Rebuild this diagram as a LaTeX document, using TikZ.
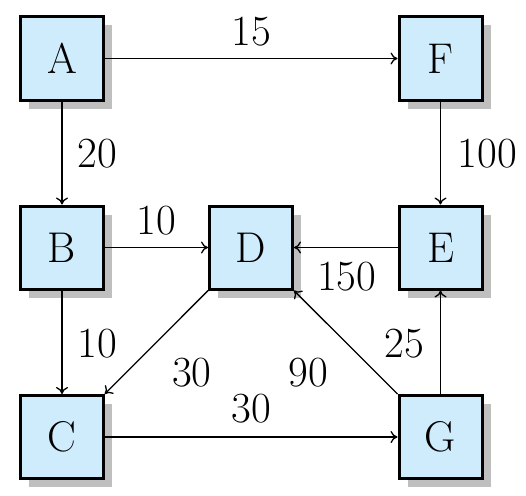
\documentclass[tikz,border=0pt]{standalone}
\usetikzlibrary{shadows,arrows.meta}
\definecolor{boxfill}{RGB}{207,236,252}
\begin{document}
\begin{tikzpicture}[x=1pt,y=-1pt,
  vbox/.style={draw=black, line width=3pt, fill=boxfill, minimum size=83pt, inner sep=0pt,
    font=\fontsize{43}{50}\selectfont,
    drop shadow={shadow xshift=8.5pt, shadow yshift=-8.5pt, fill=black!25, opacity=1}},
  lbl/.style={font=\fontsize{43}{50}\selectfont, inner sep=0pt},
  edge/.style={line width=1.3pt, -{To[length=7pt,width=12pt]}}]
\useasboundingbox (0,0) rectangle (526,495);
\node[vbox] (A) at (62,58.5) {A};
\node[vbox] (F) at (440.5,58.5) {F};
\node[vbox] (B) at (62,247.5) {B};
\node[vbox] (D) at (251,247.5) {D};
\node[vbox] (E) at (440.5,247.5) {E};
\node[vbox] (C) at (62,437) {C};
\node[vbox] (G) at (440.5,437) {G};
\draw[edge] (A) -- node[lbl, yshift=26.5pt] {15} (F);
\draw[edge] (A) -- node[lbl, xshift=35.5pt, yshift=-1pt] {20} (B);
\draw[edge] (F) -- node[lbl, xshift=47pt, yshift=-1pt] {100} (E);
\draw[edge] (B) -- node[lbl, yshift=26.5pt] {10} (D);
\draw[edge] (E) -- node[lbl, xshift=1pt, yshift=-29.5pt] {150} (D);
\draw[edge] (B) -- node[lbl, xshift=35.5pt, yshift=-1pt] {10} (C);
\draw[edge] (D) -- node[lbl, xshift=35.5pt, yshift=-30pt] {30} (C);
\draw[edge] (G) -- node[lbl, xshift=-37pt, yshift=-30pt] {90} (D);
\draw[edge] (G) -- node[lbl, xshift=-36.5pt, yshift=-1pt] {25} (E);
\draw[edge] (C) -- node[lbl, yshift=28pt] {30} (G);
\end{tikzpicture}
\end{document}
